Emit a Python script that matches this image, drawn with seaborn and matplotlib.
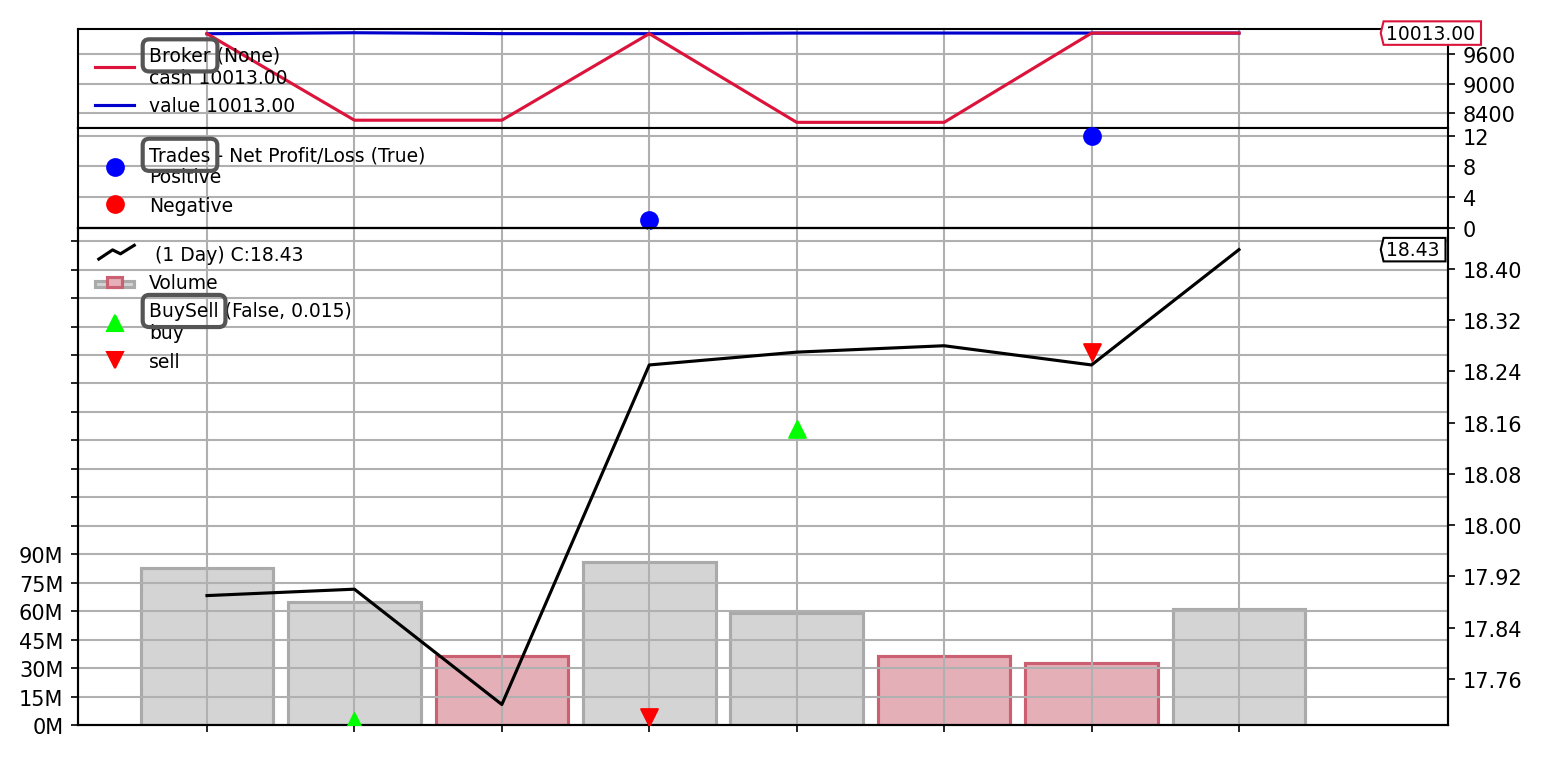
import numpy as np
import matplotlib
matplotlib.use('Agg')
import matplotlib.pyplot as plt
import seaborn as sns
from matplotlib.lines import Line2D
from matplotlib.patches import Rectangle, Patch
from matplotlib.path import Path
from matplotlib.legend_handler import HandlerBase
from matplotlib.ticker import MultipleLocator, FuncFormatter, NullFormatter, FixedLocator

plt.rcParams['axes.linewidth'] = 1.0
plt.rcParams['grid.linewidth'] = 1.0

# bar index of each daily bar
bars = [0, 1, 2, 3, 4, 5, 6, 7]
close = [17.89, 17.90, 17.72, 18.25, 18.27, 18.28, 18.25, 18.43]
volume = [82.8e6, 64.8e6, 36.6e6, 85.9e6, 59.0e6, 36.3e6, 32.6e6, 60.9e6]
vol_up = [True, True, False, True, True, False, False, True]

# broker observer
cash = [10000, 8265, 8265, 10001, 8222, 8222, 10013, 10013]
value = [10000, 10020, 10002, 10001, 10013, 10014, 10013, 10013]

# trades observer (net profit/loss)
trade_x = [3, 6]
trade_pnl = [1.0, 12.0]

# buysell observer
buy_x = [1, 4]
buy_price = [17.695, 18.15]
sell_x = [3, 6]
sell_price = [17.70, 18.27]


def tag_box(x0, y0, width, height, mutation_size):
    """Small left-pointing tag used for the last-value labels."""
    padx = 0.3 * mutation_size
    pady = 0.12 * mutation_size
    notch = 0.15 * mutation_size
    x0 -= padx
    y0 -= pady
    x1 = x0 + width + 2 * padx
    y1 = y0 + height + 2 * pady
    ym = (y0 + y1) / 2
    verts = [(x0, ym), (x0 + notch, y0), (x1, y0), (x1, y1), (x0 + notch, y1), (x0, ym)]
    codes = [Path.MOVETO] + [Path.LINETO] * 4 + [Path.CLOSEPOLY]
    return Path(verts, codes)


class ZigzagHandler(HandlerBase):
    def create_artists(self, legend, orig_handle, xdescent, ydescent, width, height, fontsize, trans):
        xs = np.array([0.1, 0.45, 0.65, 1.0]) * width - xdescent
        ys = np.array([0.05, 0.75, 0.45, 1.1]) * height - ydescent
        return [Line2D(xs, ys, color='black', lw=1.5, transform=trans)]


class VolumeHandler(HandlerBase):
    def create_artists(self, legend, orig_handle, xdescent, ydescent, width, height, fontsize, trans):
        base = Rectangle((-xdescent, -ydescent + 0.05 * height), width, 0.5 * height,
                         facecolor='#d4d4d4', edgecolor='#aaaaaa', lw=1.5, transform=trans)
        mid = Rectangle((-xdescent + 0.32 * width, -ydescent + 0.05 * height), 0.36 * width, 0.8 * height,
                        facecolor='#e6b0b9', edgecolor='#cc6073', lw=1.5, transform=trans)
        return [base, mid]


def box_word(ax, legend, idx, word):
    ax.annotate(word, xy=(0, 1), xycoords=legend.get_texts()[idx], ha='left', va='top',
                fontsize=9, color='none', annotation_clip=False, zorder=10,
                bbox=dict(boxstyle='round,pad=0.35', fc='none', ec='#555555', lw=2))


leg_kw = dict(loc='upper left', frameon=False, prop=dict(size=9), handlelength=2.1)

fig = plt.figure(figsize=(1546 / 150, 759 / 150), dpi=150)
gs = fig.add_gridspec(3, 1, height_ratios=[1, 1, 5], hspace=0,
                      left=78 / 1546, right=1448 / 1546, top=1 - 30 / 759, bottom=1 - 726 / 759)
ax_b = fig.add_subplot(gs[0])
ax_t = fig.add_subplot(gs[1], sharex=ax_b)
ax_p = fig.add_subplot(gs[2], sharex=ax_b)
ax_v = ax_p.twinx()

# --- broker panel
sns.lineplot(x=bars, y=value, color='mediumblue', lw=1.5, ax=ax_b, legend=False)
sns.lineplot(x=bars, y=cash, color='crimson', lw=1.5, ax=ax_b, legend=False)
ax_b.set_ylim(8100, 10095)
ax_b.yaxis.set_major_locator(FixedLocator([8400, 9000, 9600]))
ax_b.yaxis.tick_right()
ax_b.grid(True)
ax_b.text(len(bars), cash[-1], f'{cash[-1]:.2f}', va='center', ha='left', fontsize=9,
          bbox=dict(boxstyle=tag_box, fc='white', ec='crimson', lw=1), zorder=6)
leg_b = ax_b.legend([Line2D([], [], color='crimson', lw=1.5), Line2D([], [], color='mediumblue', lw=1.5)],
                    [f'Broker (None)\ncash {cash[-1]:.2f}', f'value {value[-1]:.2f}'], **leg_kw)
box_word(ax_b, leg_b, 0, 'Broker')

# --- trades panel
sns.scatterplot(x=trade_x, y=trade_pnl, marker='o', s=64, color='blue', edgecolor='blue',
                linewidth=1, ax=ax_t, legend=False, zorder=5, clip_on=False)
ax_t.set_ylim(0, 12.95)
ax_t.yaxis.set_major_locator(FixedLocator([0, 4, 8, 12]))
ax_t.yaxis.tick_right()
ax_t.grid(True)
leg_t = ax_t.legend([Line2D([], [], marker='o', color='blue', ls='none', ms=8),
                     Line2D([], [], marker='o', color='red', ls='none', ms=8)],
                    ['Trades - Net Profit/Loss (True)\nPositive', 'Negative'], **leg_kw)
box_word(ax_t, leg_t, 0, 'Trades')

# --- volume (left axis)
up_x = [b for b, u in zip(bars, vol_up) if u]
up_v = [v for v, u in zip(volume, vol_up) if u]
dn_x = [b for b, u in zip(bars, vol_up) if not u]
dn_v = [v for v, u in zip(volume, vol_up) if not u]
sns.barplot(x=up_x, y=up_v, native_scale=True, width=0.9, color='#aaaaaa', saturation=1,
            edgecolor='#aaaaaa', linewidth=1.5, errorbar=None, ax=ax_v)
n_up = len(ax_v.patches)
sns.barplot(x=dn_x, y=dn_v, native_scale=True, width=0.9, color='#cc6073', saturation=1,
            edgecolor='#cc6073', linewidth=1.5, errorbar=None, ax=ax_v)
for i, p in enumerate(ax_v.patches):
    p.set_facecolor((0.667, 0.667, 0.667, 0.5) if i < n_up else (0.8, 0.376, 0.451, 0.5))
ax_v.set_ylim(0, 262e6)
ax_v.yaxis.set_major_locator(MultipleLocator(15e6))
ax_v.yaxis.set_major_formatter(FuncFormatter(lambda v, pos: f'{v / 1e6:.0f}M' if v <= 90e6 + 1 else ''))
ax_v.yaxis.tick_left()
ax_v.grid(True, axis='y')
ax_v.set_ylabel('')

# --- price panel (right axis)
sns.lineplot(x=bars, y=close, color='black', lw=1.5, ax=ax_p, legend=False)
sns.scatterplot(x=buy_x, y=buy_price, marker='^', s=64, color='lime', edgecolor='lime',
                linewidth=1, ax=ax_p, legend=False, zorder=5)
sns.scatterplot(x=sell_x, y=sell_price, marker='v', s=64, color='red', edgecolor='red',
                linewidth=1, ax=ax_p, legend=False, zorder=5)
ax_p.set_ylim(17.688, 18.464)
ax_p.yaxis.set_major_locator(FixedLocator(np.round(np.arange(17.76, 18.41, 0.08), 2)))
ax_p.yaxis.set_major_formatter(FuncFormatter(lambda v, pos: f'{v:.2f}'))
ax_p.yaxis.tick_right()
ax_p.grid(True, axis='x')
ax_p.set_zorder(ax_v.get_zorder() + 1)
ax_p.patch.set_visible(False)
ax_p.text(len(bars), close[-1], f'{close[-1]:.2f}', va='center', ha='left', fontsize=9,
          bbox=dict(boxstyle=tag_box, fc='white', ec='black', lw=1), zorder=6)

zig = Line2D([], [], color='black')
volh = Patch()
leg_p = ax_p.legend([zig, volh,
                     Line2D([], [], marker='^', color='lime', ls='none', ms=8),
                     Line2D([], [], marker='v', color='red', ls='none', ms=8)],
                    [f' (1 Day) C:{close[-1]:.2f}', 'Volume', 'BuySell (False, 0.015)\nbuy', 'sell'],
                    handler_map={zig: ZigzagHandler(), volh: VolumeHandler()}, **leg_kw)
box_word(ax_p, leg_p, 2, 'BuySell')

# shared x axis
ax_p.set_xticks(bars)
ax_p.xaxis.set_major_formatter(NullFormatter())
ax_p.set_xlim(-0.875, 8.418)
for a in (ax_b, ax_t):
    a.tick_params(axis='x', length=0, labelbottom=False)
for a in (ax_b, ax_t, ax_p, ax_v):
    a.set_xlabel('')
    a.set_ylabel('')

fig.canvas.draw()
fig.savefig('out.png', dpi=150)
